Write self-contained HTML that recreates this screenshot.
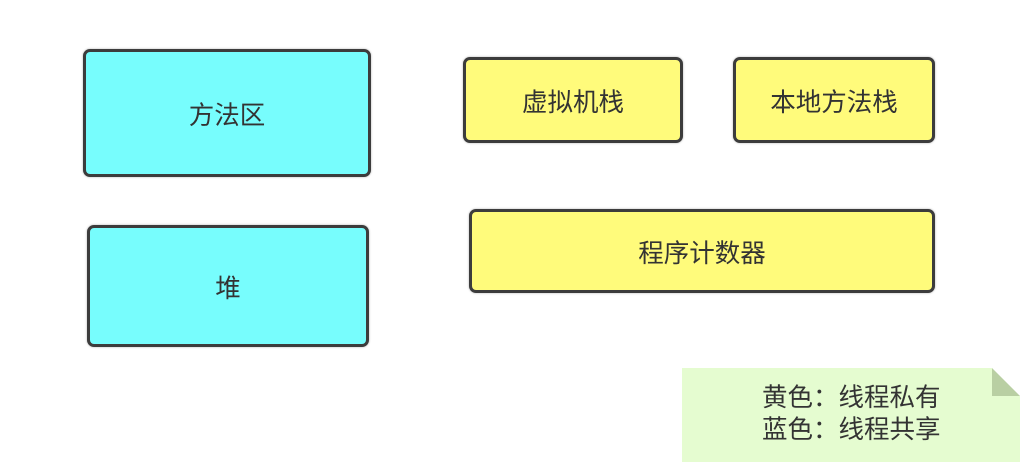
<!DOCTYPE html>
<html><head><meta charset="utf-8"><style>
body{margin:0;width:1020px;height:462px;background:#fff;position:relative;overflow:hidden;font-family:"Liberation Sans","Noto Sans CJK SC",sans-serif;color:#333}
.b{position:absolute;box-sizing:border-box;border:3px solid #3c3c3c;border-radius:7px;display:flex;align-items:center;justify-content:center;font-size:25.5px;box-shadow:0 0 2px rgba(0,0,0,.3)}
.c{background:#77fdfd}.y{background:#fffb7b}
.note{position:absolute;left:682px;top:368px;width:338px;height:94px;background:#e5fcd0}
.fold{position:absolute;left:992px;top:368px;width:0;height:0;border-left:28px solid #b9cfa3;border-top:28px solid #fff}
.nt{position:absolute;left:762px;top:382px;font-size:25.5px;line-height:32px;color:#333}
</style></head><body>
<div class="b c" style="left:83px;top:49px;width:288px;height:128px">方法区</div>
<div class="b c" style="left:87px;top:225px;width:282px;height:122px">堆</div>
<div class="b y" style="left:463px;top:57px;width:220px;height:86px">虚拟机栈</div>
<div class="b y" style="left:733px;top:57px;width:202px;height:86px">本地方法栈</div>
<div class="b y" style="left:469px;top:209px;width:466px;height:84px">程序计数器</div>
<div class="note"></div><div class="fold"></div>
<div class="nt">黄色：线程私有<br>蓝色：线程共享</div>
</body></html>
